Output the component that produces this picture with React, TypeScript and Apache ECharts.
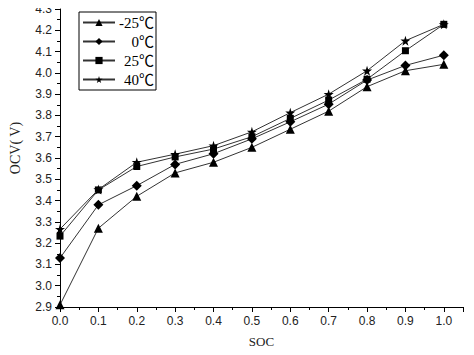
import React, { useEffect, useRef } from "react";
import * as echarts from "echarts";

const socValues = [0, 0.1, 0.2, 0.3, 0.4, 0.5, 0.6, 0.7, 0.8, 0.9, 1.0];
const seriesNames = ["-25℃", "0℃", "25℃", "40℃"];
const ocvMinus25 = [2.91, 3.27, 3.42, 3.53, 3.58, 3.65, 3.735, 3.82, 3.935, 4.01, 4.04];
const ocv0 = [3.13, 3.38, 3.47, 3.57, 3.62, 3.69, 3.77, 3.853, 3.966, 4.035, 4.083];
const ocv25 = [3.233, 3.45, 3.56, 3.605, 3.642, 3.70, 3.786, 3.872, 3.97, 4.104, 4.228];
const ocv40 = [3.266, 3.452, 3.58, 3.618, 3.658, 3.723, 3.813, 3.90, 4.01, 4.151, 4.228];
const seriesValues = [ocvMinus25, ocv0, ocv25, ocv40];

const STAR =
  "path://M50,0 L61,35 L98,35 L68,57 L79,91 L50,70 L21,91 L32,57 L2,35 L39,35 Z";
const symbols = ["triangle", "diamond", "rect", STAR];
const symbolSizes = [9, 10, 7, 10];

export default function App() {
  const ref = useRef<HTMLDivElement>(null);
  useEffect(() => {
    if (!ref.current) return;
    const chart = echarts.init(ref.current, undefined, { renderer: "svg" });
    const labelFont = {
      fontFamily: "Liberation Sans, Arial, sans-serif",
      fontSize: 12,
      color: "#222",
    };
    chart.setOption({
      animation: false,
      backgroundColor: "#fff",
      grid: { left: 59, right: 11, top: 9, bottom: 48, containLabel: false },
      legend: {
        orient: "vertical",
        left: 79,
        top: 12,
        data: seriesNames,
        borderColor: "#000",
        borderWidth: 1,
        borderRadius: 0,
        padding: [3, 2, 3, 3],
        itemGap: 4,
        itemWidth: 32,
        itemHeight: 9,
        formatter: "{a|{name}}",
        textStyle: {
          rich: {
            a: {
              width: 34,
              align: "right",
              fontFamily: "Liberation Serif, Noto Sans CJK SC, serif",
              fontSize: 15,
              lineHeight: 15,
              color: "#000",
            },
          },
        },
      },
      xAxis: {
        type: "value",
        min: 0,
        max: 1.05,
        interval: 0.1,
        name: "SOC",
        nameLocation: "middle",
        nameGap: 28,
        nameTextStyle: {
          fontFamily: "Liberation Serif, serif",
          fontSize: 13,
          color: "#222",
        },
        axisLine: { show: true, onZero: false, lineStyle: { color: "#000", width: 1 } },
        axisTick: { show: true, inside: false, length: 5, lineStyle: { color: "#000" } },
        minorTick: { show: true, splitNumber: 2, length: 3, lineStyle: { color: "#000" } },
        splitLine: { show: false },
        axisLabel: {
          ...labelFont,
          margin: 8,
          showMaxLabel: false,
          formatter: (v: number) => (v > 1.001 ? "" : v.toFixed(1)),
        },
      },
      yAxis: {
        type: "value",
        min: 2.9,
        max: 4.3,
        interval: 0.1,
        name: "OCV( V)",
        nameLocation: "middle",
        nameGap: 38,
        nameRotate: 90,
        nameTextStyle: {
          fontFamily: "Liberation Serif, serif",
          fontSize: 14,
          color: "#222",
          padding: [0, 0, 0, 20],
        },
        axisLine: { show: true, lineStyle: { color: "#000", width: 1 } },
        axisTick: { show: true, inside: false, length: 5, lineStyle: { color: "#000" } },
        minorTick: { show: true, splitNumber: 2, length: 3, lineStyle: { color: "#000" } },
        splitLine: { show: false },
        axisLabel: {
          ...labelFont,
          margin: 8,
          formatter: (v: number) => v.toFixed(1),
        },
      },
      series: seriesNames.map((name, i) => ({
        name,
        type: "line",
        data: socValues.map((x, j) => [x, seriesValues[i][j]]),
        symbol: symbols[i],
        symbolSize: symbolSizes[i],
        showAllSymbol: true,
        lineStyle: { color: "#333", width: 1 },
        itemStyle: { color: "#000", borderWidth: 0 },
        color: "#000",
        z: 2 + i,
      })),
    });
    return () => chart.dispose();
  }, []);
  return <div ref={ref} style={{ width: 474, height: 355, margin: -8 }} />;
}
